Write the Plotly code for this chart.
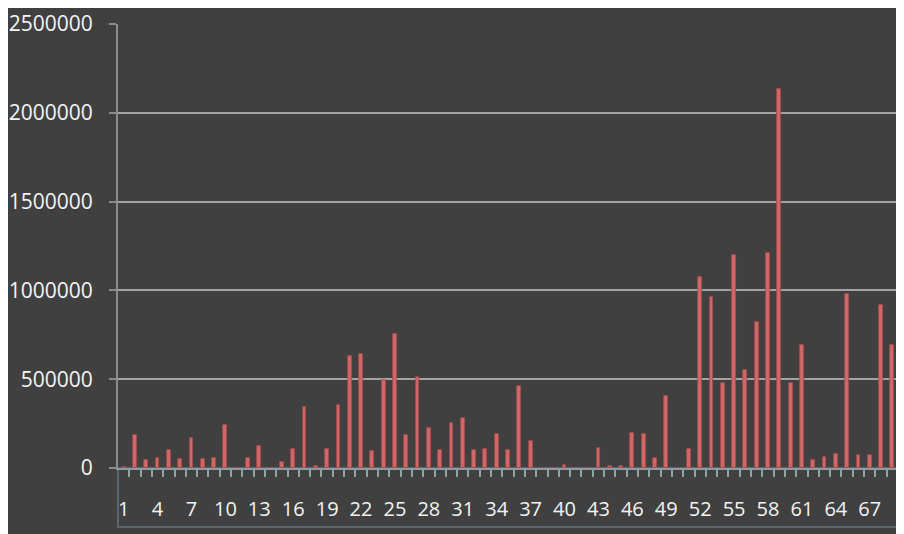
import plotly.graph_objects as go

# ---------------------------
# DATA
# ---------------------------
CATEGORIES = list(range(1, 70))
VALUES = [
    4000, 188000, 47000, 55000, 100000, 51000, 168000, 51000, 58000, 241000,
    0, 57000, 124000, 0, 32000, 108000, 346000, 11000, 108000, 355000,
    633000, 644000, 95000, 495000, 753000, 186000, 510000, 228000, 101000, 251000,
    281000, 99000, 105000, 194000, 103000, 460000, 152000, 0, 0, 19000,
    0, 0, 114000, 13000, 13000, 196000, 192000, 57000, 403000, 0,
    105000, 1077000, 963000, 481000, 1200000, 551000, 820000, 1210000, 2133000, 479000,
    691000, 47000, 61000, 80000, 977000, 76000, 72000, 916000, 691000,
]
LABEL_CATS = list(range(1, 70, 3))
Y_TICKS = [0, 500000, 1000000, 1500000, 2000000, 2500000]

BG = "#404040"
GRID = "#a3a3a3"
TEXT = "#f4f4f4"

# ---------------------------
# FIGURE
# ---------------------------
fig = go.Figure(go.Bar(
    x=CATEGORIES,
    y=VALUES,
    width=0.34,
    marker=dict(color="#cf6868", line=dict(color="#a84848", width=0.8)),
))

# frame under the category axis
fig.add_shape(type="rect", xref="paper", yref="paper",
              x0=0, x1=1, y0=-0.133, y1=0,
              line=dict(color="#5d6670", width=2), layer="below")

# page body keeps an 8px margin, so the figure is sized to sit inside the window
fig.update_layout(
    width=896, height=526,
    margin=dict(l=110, r=6, t=16, b=66, autoexpand=False),
    paper_bgcolor=BG,
    plot_bgcolor=BG,
    font=dict(family="Open Sans, Noto Sans, sans-serif", color=TEXT, size=20),
    showlegend=False,
    bargap=0,
)

fig.update_xaxes(
    range=[0.5, 69.5],
    tickvals=LABEL_CATS,
    ticktext=[str(c) for c in LABEL_CATS],
    ticks="",
    ticklabelstandoff=22,
    automargin=False,
    showgrid=False,
    zeroline=False,
    showline=True, linecolor="#8f9aa0", linewidth=2,
    minor=dict(tickvals=[c + 0.5 for c in CATEGORIES[:-1]],
               ticks="outside", ticklen=7, tickwidth=2, tickcolor="#8fa3a3",
               showgrid=False),
)

fig.update_yaxes(
    range=[0, 2500000],
    tickvals=Y_TICKS,
    ticktext=[str(v) for v in Y_TICKS],
    tickfont=dict(size=21),
    ticks="outside", ticklen=7, tickwidth=2, tickcolor="#8c8c8c",
    ticklabelstandoff=12,
    ticklabeloverflow="allow",
    automargin=False,
    showgrid=True, gridcolor=GRID, gridwidth=1.5,
    zeroline=False,
    showline=True, linecolor="#8c8c8c", linewidth=2,
)

fig.write_html("out.html")
